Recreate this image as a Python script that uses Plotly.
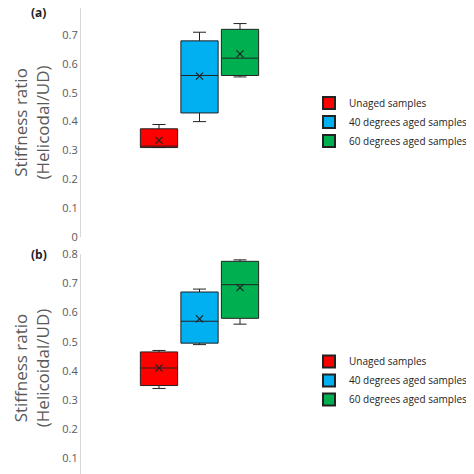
import plotly.graph_objects as go

names = ["Unaged samples", "40 degrees aged samples", "60 degrees aged samples"]
colors = ["#ff0000", "#00b0f0", "#00b050"]
pos = [1, 2, 3]
# panel (a)
a_low = [0.31, 0.40, 0.555]; a_q1 = [0.31, 0.43, 0.56]; a_med = [0.315, 0.56, 0.62]
a_q3 = [0.375, 0.68, 0.72]; a_high = [0.39, 0.71, 0.74]; a_mean = [0.335, 0.558, 0.635]
# panel (b)
b_low = [0.34, 0.49, 0.56]; b_q1 = [0.35, 0.495, 0.58]; b_med = [0.41, 0.57, 0.695]
b_q3 = [0.465, 0.67, 0.775]; b_high = [0.47, 0.68, 0.78]; b_mean = [0.41, 0.578, 0.685]

fig = go.Figure()
panels = [("y", "x", a_low, a_q1, a_med, a_q3, a_high, a_mean, "legend"),
          ("y2", "x2", b_low, b_q1, b_med, b_q3, b_high, b_mean, "legend2")]
for ya, xa, lo, q1, md, q3, hi, mn, lg in panels:
    for i in range(3):
        fig.add_trace(go.Box(x=[pos[i]], q1=[q1[i]], median=[md[i]], q3=[q3[i]],
                             lowerfence=[lo[i]], upperfence=[hi[i]], width=0.92,
                             fillcolor=colors[i], line=dict(color="#222", width=1),
                             whiskerwidth=0.35, showlegend=False, xaxis=xa, yaxis=ya,
                             boxpoints=False))
    fig.add_trace(go.Scatter(x=pos, y=mn, mode="markers", xaxis=xa, yaxis=ya, showlegend=False,
                             marker=dict(symbol="x-thin", size=7, line=dict(color="#222", width=1.2))))
    for i in range(3):
        fig.add_trace(go.Scatter(x=[None], y=[None], mode="markers", name=names[i], legend=lg,
                                 xaxis=xa, yaxis=ya,
                                 marker=dict(symbol="square", size=9, color=colors[i],
                                             line=dict(color="#222", width=0.8))))

yax = dict(showgrid=False, zeroline=False, showline=True, linecolor="#d9d9d9", linewidth=1,
           ticks="", tickfont=dict(family="Open Sans", size=11, color="#595959"), dtick=0.1,
           tickformat=".1~f", automargin=False,
           title=dict(text="Stiffness ratio<br>(Helicodal/UD)", standoff=8,
                      font=dict(family="Open Sans", size=17, color="#595959")))
xax = dict(domain=[0.154, 1], range=[-0.926, 8.975], visible=False)
leg = dict(font=dict(family="Open Sans", size=10, color="#222"), bgcolor="rgba(0,0,0,0)",
           itemsizing="constant", tracegroupgap=0, xanchor="left", yanchor="top", itemwidth=30)
fig.update_layout(
    width=474, height=474, margin=dict(l=0, r=0, t=0, b=0, autoexpand=False),
    plot_bgcolor="white", paper_bgcolor="white",
    xaxis=xax, xaxis2=dict(xax, anchor="y2"),
    yaxis=dict(yax, domain=[0.517, 1], range=[0, 0.794], anchor="x"),
    yaxis2=dict(yax, domain=[0, 0.481], range=[0.02, 0.8], anchor="x2",
                title=dict(text="Stiffness ratio<br>(Helicoidal/UD)", standoff=8,
                           font=dict(family="Open Sans", size=17, color="#595959"))),
    legend=dict(leg, x=0.635, y=0.83),
    legend2=dict(leg, x=0.635, y=0.285),
    annotations=[dict(text="<b>(a)</b>", x=0.045, y=1.012, xref="paper", yref="paper", showarrow=False,
                      font=dict(family="Open Sans", size=12, color="#222")),
                 dict(text="<b>(b)</b>", x=0.045, y=0.479, xref="paper", yref="paper", showarrow=False,
                      font=dict(family="Open Sans", size=12, color="#222"))],
)
fig.write_html("out.html")
